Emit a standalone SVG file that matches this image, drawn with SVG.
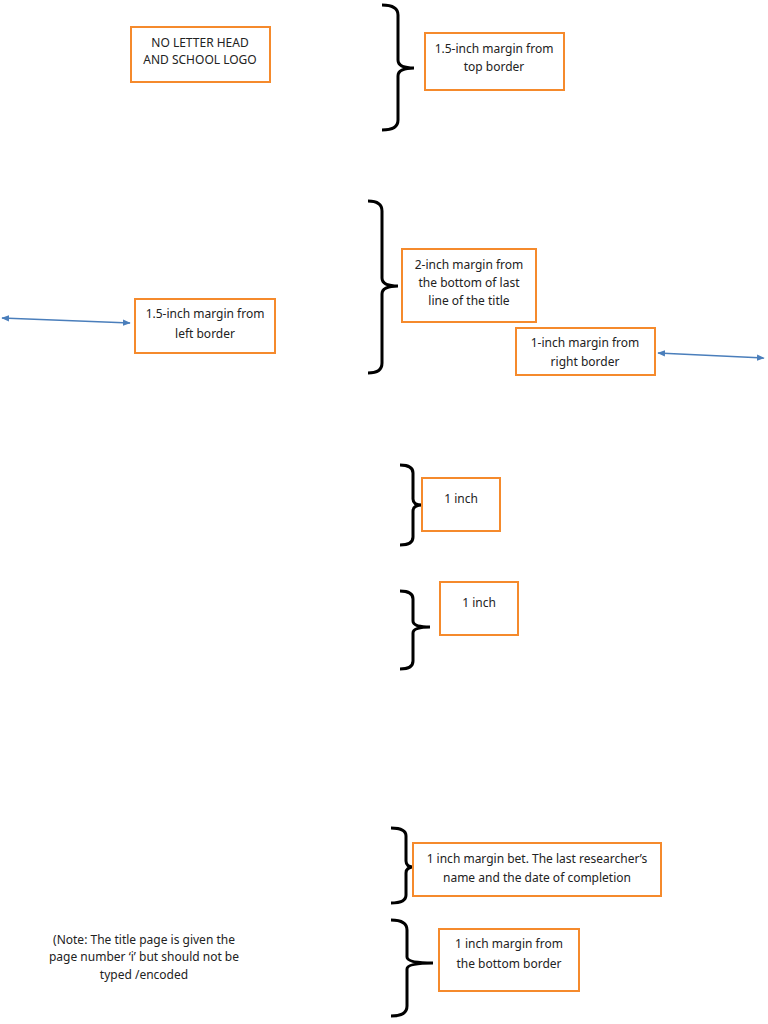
<svg xmlns="http://www.w3.org/2000/svg" width="768" height="1024" viewBox="0 0 768 1024">
<style>
.box{fill:#fff;stroke:#f58a2c;stroke-width:2}
.br{fill:none;stroke:#000;stroke-width:3}
text{font-family:"Noto Sans","Open Sans",sans-serif;font-size:12px;fill:#222;text-anchor:middle}
.ar{stroke:#4a7ebb;stroke-width:1.3;marker-start:url(#a);marker-end:url(#a)}
</style>
<defs><marker id="a" viewBox="0 0 10 10" refX="9" refY="5" markerWidth="6" markerHeight="6" orient="auto-start-reverse"><path d="M0,1 L10,5 L0,9 z" fill="#4a7ebb"/></marker></defs>
<rect width="768" height="1024" fill="#fff"/>
<g id="braces">
<path class="br" d="M382,5 Q398,5 398,15 L398,60 Q398,68 414,68 Q398,68 398,76 L398,120 Q398,130 382,130"/>
<path class="br" d="M368,201 Q382,201 382,211 L382,278 Q382,286 398,286 Q382,286 382,294 L382,363 Q382,373 368,373"/>
<path class="br" d="M400,465 Q413,465 413,473 L413,499 Q413,505 422,505 Q413,505 413,511 L413,537 Q413,545 400,545"/>
<path class="br" d="M400,591 Q413,591 413,599 L413,621 Q413,627 430,627 Q413,627 413,633 L413,661 Q413,669 400,669"/>
<path class="br" d="M391,828 Q406,828 406,836 L406,861 Q406,867 414,867 Q406,867 406,873 L406,895 Q406,903 391,903"/>
<path class="br" d="M391,920 Q407,920 407,930 L407,957 Q407,963 433,963 Q407,963 407,969 L407,1006 Q407,1016 391,1016"/>
</g>
<g id="connectors">
<line class="ar" x1="2" y1="318" x2="130" y2="323"/>
<line class="ar" x1="658" y1="353" x2="764" y2="358"/>
</g>
<g id="n1"><rect class="box" x="131" y="27" width="139" height="55"/><text x="200" y="47">NO LETTER HEAD</text><text x="200" y="64">AND SCHOOL LOGO</text></g>
<g id="n2"><rect class="box" x="425" y="33" width="139" height="57"/><text x="494" y="53">1.5-inch margin from</text><text x="494" y="71">top border</text></g>
<g id="n3"><rect class="box" x="402" y="249" width="134" height="73"/><text x="469" y="269">2-inch margin from</text><text x="469" y="287">the bottom of last</text><text x="469" y="305">line of the title</text></g>
<g id="n4"><rect class="box" x="135" y="299" width="140" height="54"/><text x="205" y="318">1.5-inch margin from</text><text x="205" y="338">left border</text></g>
<g id="n5"><rect class="box" x="516" y="328" width="139" height="47"/><text x="585" y="347">1-inch margin from</text><text x="585" y="366">right border</text></g>
<g id="n6"><rect class="box" x="422" y="478" width="78" height="53"/><text x="461" y="503">1 inch</text></g>
<g id="n7"><rect class="box" x="440" y="582" width="78" height="53"/><text x="479" y="607">1 inch</text></g>
<g id="n8"><rect class="box" x="413" y="843" width="248" height="53"/><text x="537" y="863">1 inch margin bet. The last researcher’s</text><text x="537" y="882">name and the date of completion</text></g>
<g id="n9"><rect class="box" x="439" y="929" width="140" height="62"/><text x="509" y="948">1 inch margin from</text><text x="509" y="968">the bottom border</text></g>
<g id="note"><text x="144" y="944">(Note: The title page is given the</text><text x="144" y="961">page number ‘i’ but should not be</text><text x="144" y="979">typed /encoded</text></g>
</svg>
